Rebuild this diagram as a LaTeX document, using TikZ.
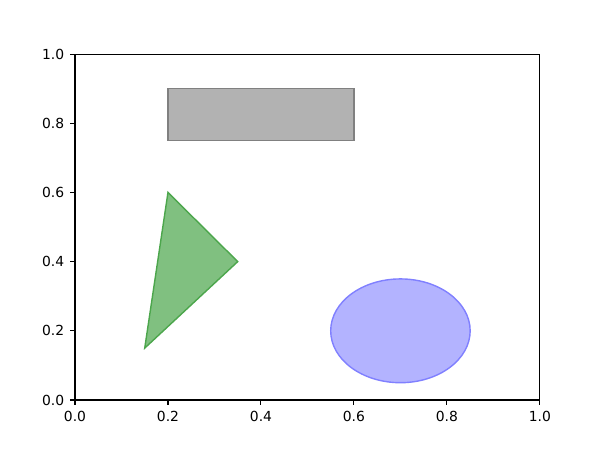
\documentclass[tikz,border=0pt]{standalone}
\usepackage{fontspec}
\setmainfont{DejaVu Sans}
\definecolor{rectfill}{HTML}{B2B2B2}
\definecolor{rectedge}{HTML}{808080}
\definecolor{trifill}{HTML}{80C080}
\definecolor{triedge}{HTML}{4CA64C}
\definecolor{ellfill}{HTML}{B3B3FF}
\definecolor{elledge}{HTML}{8080FF}
\tikzset{
  ticklabel/.style={font=\fontsize{7.9}{9}\selectfont, inner sep=0pt},
  tickmark/.style={black, line width=0.6pt}
}
\begin{document}
\begin{tikzpicture}[x=0.02cm, y=0.02cm]
                % Keep the figure size
                \useasboundingbox (0,0) rectangle (600,450);
                \begin{scope}[shift={(75,50)}, x=9.3cm, y=6.92cm]
                % Draw the shapes
                \fill[rectfill] (0.2,0.75) rectangle (0.6,0.9);
                \draw[rectedge, line width=0.8pt] (0.2,0.75) rectangle (0.6,0.9);
                \filldraw[fill=trifill, draw=triedge, line width=0.8pt] (0.2,0.6) -- (0.35,0.4) -- (0.15,0.15) -- cycle;
                \filldraw[fill=ellfill, draw=elledge, line width=0.8pt] (0.7,0.2) ellipse [x radius=0.15, y radius=0.15];

                % Draw the axes box and ticks
                \draw[black, line width=0.6pt] (0,0) rectangle (1,1);
                \foreach \v in {0.0,0.2,0.4,0.6,0.8,1.0} {
                    \draw[tickmark] (\v,0) -- ++(0,-5*0.02cm) node[ticklabel, below=3pt] (xl\v) {\v};
                    \draw[tickmark] (0,\v) -- ++(-5*0.02cm,0) node[ticklabel, left=3pt] (yl\v) {\v};
                }
                \end{scope}
            \end{tikzpicture}
\end{document}
